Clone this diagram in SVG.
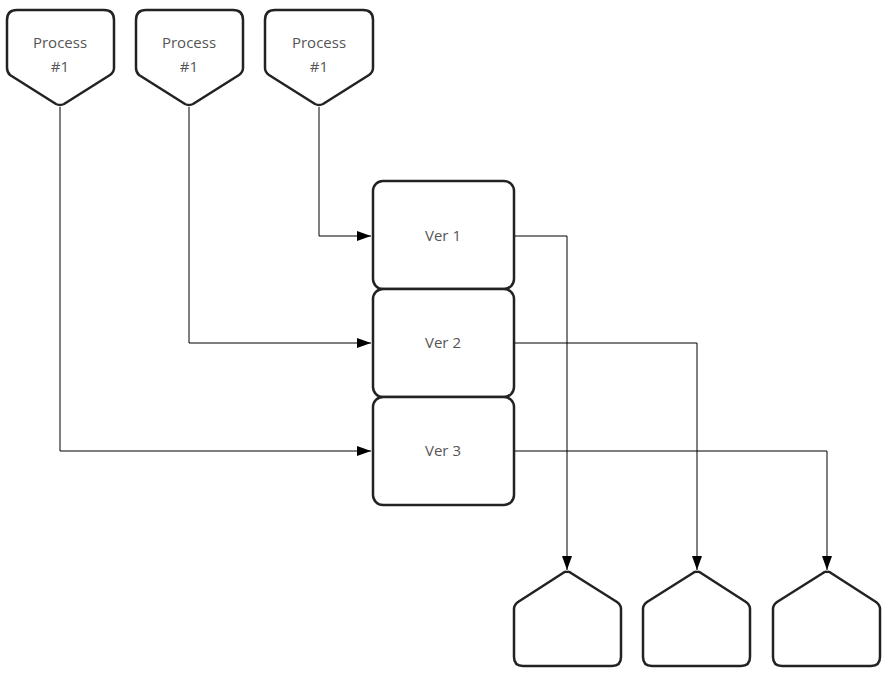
<svg xmlns="http://www.w3.org/2000/svg" width="888" height="677" viewBox="0 0 888 677">
<style>
.s{fill:#fff;stroke:#222;stroke-width:2.5;stroke-linejoin:round}
.t{font-family:"Open Sans",sans-serif;font-size:15px;fill:#555;text-anchor:middle}
.c{fill:none;stroke:#000;stroke-width:1}
</style>
<defs><marker id="a" markerWidth="14" markerHeight="10" refX="14" refY="5" orient="auto" markerUnits="userSpaceOnUse"><path d="M0,0 L14,5 L0,10 Z" fill="#000"/></marker></defs>
<rect width="888" height="677" fill="#fff"/>
<g id="p1"><path class="s" d="M17,10 H104 Q114,10 114,20 V68 Q114,72 110,75 L64,104 Q60,106 56,104 L10,75 Q7,72 7,68 V20 Q7,10 17,10 Z"/><text class="t" x="60" y="48">Process</text><text class="t" x="60" y="72">#1</text></g>
<g id="p2"><path class="s" d="M146,10 H233 Q243,10 243,20 V68 Q243,72 239,75 L193,104 Q189,106 185,104 L139,75 Q136,72 136,68 V20 Q136,10 146,10 Z"/><text class="t" x="189" y="48">Process</text><text class="t" x="189" y="72">#1</text></g>
<g id="p3"><path class="s" d="M275,10 H363 Q373,10 373,20 V68 Q373,72 369,75 L323,104 Q319,106 315,104 L269,75 Q265,72 265,68 V20 Q265,10 275,10 Z"/><text class="t" x="319" y="48">Process</text><text class="t" x="319" y="72">#1</text></g>
<g id="v1"><rect class="s" x="373" y="181" width="141" height="108" rx="10"/><text class="t" x="443" y="241">Ver 1</text></g>
<g id="v2"><rect class="s" x="373" y="289" width="141" height="108" rx="10"/><text class="t" x="443" y="348">Ver 2</text></g>
<g id="v3"><rect class="s" x="373" y="397" width="141" height="108" rx="10"/><text class="t" x="443" y="456">Ver 3</text></g>
<g id="o1"><path class="s" d="M567,572 Q569,571 571,573 L617,602 Q621,605 621,609 V657 Q621,666 612,666 H523 Q514,666 514,657 V609 Q514,605 518,602 L563,573 Q565,571 567,572 Z"/></g>
<g id="o2"><path class="s" d="M697,572 Q699,571 701,573 L746,602 Q750,605 750,609 V657 Q750,666 741,666 H652 Q643,666 643,657 V609 Q643,605 647,602 L693,573 Q695,571 697,572 Z"/></g>
<g id="o3"><path class="s" d="M827,572 Q829,571 831,573 L876,602 Q880,605 880,609 V657 Q880,666 871,666 H782 Q773,666 773,657 V609 Q773,605 777,602 L823,573 Q825,571 827,572 Z"/></g>
<g id="connectors">
<path class="c" d="M319,107 V236 H371" marker-end="url(#a)"/>
<path class="c" d="M189,107 V343 H371" marker-end="url(#a)"/>
<path class="c" d="M60,107 V451 H371" marker-end="url(#a)"/>
<path class="c" d="M515,236 H567 V570" marker-end="url(#a)"/>
<path class="c" d="M515,343 H697 V570" marker-end="url(#a)"/>
<path class="c" d="M515,451 H827 V570" marker-end="url(#a)"/>
</g>
</svg>
